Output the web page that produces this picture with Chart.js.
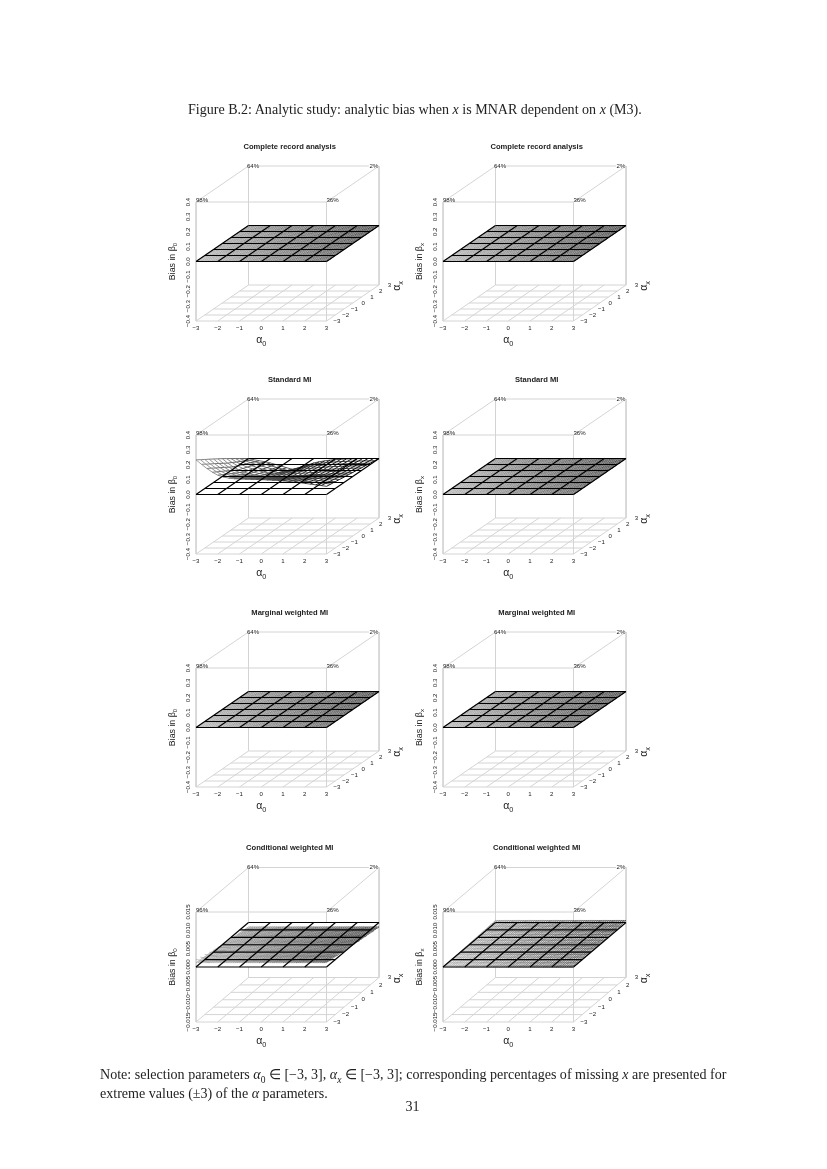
<!DOCTYPE html>
<html>
<head>
<meta charset="utf-8">
<title>Figure B.2</title>
<script src="https://cdn.jsdelivr.net/npm/chart.js@4"></script>
<style>
    html, body { margin: 0; padding: 0; background: #fff; }
    body { position: relative; width: 827px; height: 1169px; overflow: hidden; font-family: "Liberation Serif", serif; color: #222; }
    canvas { position: absolute; filter: blur(0.3px); }
    .txt { position: absolute; white-space: nowrap; font-size: 14.05px; line-height: 16px; filter: blur(0.25px); }
    .txt sub { font-size: 9.5px; line-height: 0; }
</style>
</head>
<body>
<div class="txt" style="left:188px;top:101px;">Figure B.2: Analytic study: analytic bias when <i>x</i> is MNAR dependent on <i>x</i> (M3).</div>
<div class="txt" style="left:100px;top:1066px;">Note: selection parameters <i>α</i><sub>0</sub> ∈ [−3, 3], <i>α<sub>x</sub></i> ∈ [−3, 3]; corresponding percentages of missing <i>x</i> are presented for</div>
<div class="txt" style="left:100px;top:1085px;">extreme values (±3) of the <i>α</i> parameters.</div>
<div class="txt" style="left:405.5px;top:1098px;">31</div>

<script>
// ----- DATA -----
const panelTitles = [
    'Complete record analysis', 'Complete record analysis',
    'Standard MI', 'Standard MI',
    'Marginal weighted MI', 'Marginal weighted MI',
    'Conditional weighted MI', 'Conditional weighted MI'
];
const panelSubs = ['0', 'x', '0', 'x', '0', 'x', '0', 'x'];
const cornerFrontLeft = ['98%', '98%', '98%', '98%', '98%', '98%', '96%', '96%'];
const cornerFrontRight = ['36%', '36%', '36%', '36%', '36%', '36%', '36%', '36%'];
const cornerBackLeft = ['64%', '64%', '64%', '64%', '64%', '64%', '64%', '64%'];
const cornerBackRight = ['2%', '2%', '2%', '2%', '2%', '2%', '2%', '2%'];

const alpha0Ticks = [-3, -2, -1, 0, 1, 2, 3];
const alphaXTicks = [-3, -2, -1, 0, 1, 2, 3];
const biasTicksWide = [-0.4, -0.3, -0.2, -0.1, 0, 0.1, 0.2, 0.3, 0.4];
const biasLabelsWide = ['−0.4', '−0.3', '−0.2', '−0.1', '0.0', '0.1', '0.2', '0.3', '0.4'];
const biasTicksNarrow = [-0.015, -0.01, -0.005, 0, 0.005, 0.01, 0.015];
const biasLabelsNarrow = ['−0.015', '−0.010', '−0.005', '0.000', '0.005', '0.010', '0.015'];

const fineTicks = [
    -3, -2.9, -2.8, -2.7, -2.6, -2.5, -2.4, -2.3, -2.2, -2.1,
    -2, -1.9, -1.8, -1.7, -1.6, -1.5, -1.4, -1.3, -1.2, -1.1,
    -1, -0.9, -0.8, -0.7, -0.6, -0.5, -0.4, -0.3, -0.2, -0.1,
    0, 0.1, 0.2, 0.3, 0.4, 0.5, 0.6, 0.7, 0.8, 0.9,
    1, 1.1, 1.2, 1.3, 1.4, 1.5, 1.6, 1.7, 1.8, 1.9,
    2, 2.1, 2.2, 2.3, 2.4, 2.5, 2.6, 2.7, 2.8, 2.9, 3
];

// Standard MI, bias in beta0 (units of 0.001)
const standardAlpha0 = [-3, -2.75, -2.5, -2.25, -2, -1.75, -1.5, -1.25, -1, -0.75, -0.5, -0.25, 0, 0.25, 0.5, 0.75, 1, 1.25, 1.5, 1.75, 2, 2.25, 2.5, 2.75, 3];
const standardAlphaX = [-3, -2.5, -2, -1.5, -1, -0.5, 0, 0.5, 1, 1.5, 2, 2.5, 3];
const standardBias = [
    [233, 203, 175, 150, 130, 118, 110, 106, 104, 103, 102, 101, 100, 98, 96, 94, 92, 88, 84, 80, 75, 70, 65, 60, 55],
    [214, 184, 157, 132, 113, 101, 93, 89, 87, 86, 85, 84, 84, 82, 81, 80, 78, 75, 72, 69, 65, 62, 58, 54, 50],
    [195, 165, 138, 115, 97, 85, 77, 72, 70, 69, 68, 67, 67, 67, 66, 65, 65, 63, 61, 59, 56, 53, 51, 48, 46],
    [177, 147, 120, 98, 80, 68, 60, 56, 53, 52, 51, 51, 51, 51, 51, 51, 51, 50, 49, 48, 47, 45, 44, 42, 41],
    [158, 128, 102, 80, 63, 51, 43, 39, 36, 34, 34, 34, 35, 35, 36, 37, 37, 37, 37, 37, 37, 37, 36, 36, 36],
    [139, 109, 83, 62, 47, 35, 27, 22, 19, 17, 17, 17, 18, 20, 21, 22, 24, 25, 26, 27, 28, 28, 29, 30, 32],
    [120, 90, 65, 45, 30, 18, 10, 5, 2, 0, 0, 0, 2, 4, 6, 8, 10, 12, 14, 16, 18, 20, 22, 24, 27],
    [100, 74, 52, 34, 20, 8, 0, -6, -10, -11, -9, -7, -3, 0, 2, 5, 7, 9, 11, 13, 15, 17, 18, 20, 23],
    [80, 57, 38, 23, 10, -1, -10, -17, -23, -22, -17, -14, -9, -5, -1, 2, 4, 6, 8, 10, 12, 13, 15, 16, 18],
    [60, 41, 25, 12, 0, -11, -20, -29, -35, -32, -26, -21, -14, -9, -5, -2, 1, 4, 6, 7, 9, 10, 11, 12, 14],
    [40, 25, 12, 0, -10, -21, -30, -40, -47, -43, -35, -28, -19, -13, -9, -5, -2, 1, 3, 4, 5, 7, 7, 8, 9],
    [20, 8, -2, -11, -20, -30, -40, -51, -60, -54, -43, -35, -25, -18, -12, -8, -5, -2, 0, 1, 2, 3, 4, 4, 5],
    [0, -8, -15, -22, -30, -40, -50, -62, -72, -65, -52, -42, -30, -22, -16, -11, -8, -5, -3, -2, -1, 0, 0, 0, 0]
];

// Conditional weighted MI: height of each fine row above the plane (units of 0.0001)
const conditionalRows0 = [
    12, 12, 11.3, 10.5, 10.5, 9.8, 9.8, 9, 9, 8.3, 8.3, 7.5, 7.5, 6.8, 6.8, 6, 6, 5.3, 5.3, 4.5,
    4.5, 3.8, 3.8, 3, 3, 2.3, 2.3, 1.5, 1.5, 0.8, 0, -0.8, -1.5, -1.5, -2.3, -2.3, -3, -3, -3.8, -3.8,
    -4.5, -4.5, -5.3, -5.3, -6, -6, -6.8, -6.8, -7.5, -7.5, -8.3, -8.3, -9, -9, -9.8, -9.8, -10.5, -10.5, -11.3, -12, -12
];
const conditionalRowsX = [
    0, 0.1, 0.2, 0.3, 0.4, 0.5, 0.5, 0.6, 0.7, 0.8, 0.9, 1, 1.1, 1.2, 1.3, 1.4, 1.5, 1.5, 1.6, 1.7,
    1.8, 1.9, 2, 2.1, 2.2, 2.3, 2.4, 2.5, 2.5, 2.6, 2.7, 2.8, 2.9, 3, 3.1, 3.2, 3.3, 3.4, 3.5, 3.5,
    3.6, 3.7, 3.8, 3.9, 4, 4.1, 4.2, 4.3, 4.4, 4.5, 4.5, 4.6, 4.7, 4.8, 4.9, 5, 5.1, 5.2, 5.3, 5.4, 5.5
];
// Conditional weighted MI, beta0: the rise along the a0 = -3 edge (units of 0.0001)
const wedgeAlphaX = [-3, -2.75, -2.5, -2.25, -2, -1.75, -1.5, -1.25, -1, -0.75, -0.5, -0.25, 0];
const wedgeBias = [21, 19, 17, 15.5, 14, 12, 10, 8, 6, 4.5, 3, 1.5, 0];

// ----- LAYOUT -----
const colLeft = [195.7, 443.3];
const rowBottom = [320.5, 553.5, 787, 1021.5];
const rowHeight = [119, 119, 119, 110];
const rowDepth = [36, 36, 36, 44.5];
const faceWidth = 130.5;
const shear = 52.5;
const padLeft = 32, padRight = 212, padTop = 182, padBottom = 30;

const GRID = '#d4d4d4';
const INK = '#222';

// ----- HELPERS -----
function lineSet(points, color, width) {
    return {
        data: points, showLine: true, pointRadius: 0, borderColor: color,
        borderWidth: width, tension: 0, fill: false
    };
}

function makeProjector(zMin, zMax, height, depth) {
    return (a0, ax, z) => ({
        x: (a0 + 3) / 6 * faceWidth + (ax + 3) / 6 * shear,
        y: (z - zMin) / (zMax - zMin) * height + (ax + 3) / 6 * depth
    });
}

function drawSubLabel(ctx, x, y, base, sub, size, rotate) {
    ctx.save();
    ctx.translate(x, y);
    ctx.rotate(rotate);
    ctx.textBaseline = 'alphabetic';
    ctx.textAlign = 'left';
    ctx.font = `${size}px "Liberation Sans"`;
    const w1 = ctx.measureText(base).width;
    ctx.font = `${size * 0.7}px "Liberation Sans"`;
    const w2 = ctx.measureText(sub).width;
    const start = -(w1 + w2) / 2;
    ctx.font = `${size}px "Liberation Sans"`;
    ctx.fillText(base, start, size * 0.35);
    ctx.font = `${size * 0.7}px "Liberation Sans"`;
    ctx.fillText(sub, start + w1, size * 0.6);
    ctx.restore();
}

function buildPanel(index) {
    const col = index % 2;
    const row = Math.floor(index / 2);
    const narrow = row === 3;
    const biasTicks = narrow ? biasTicksNarrow : biasTicksWide;
    const biasLabels = narrow ? biasLabelsNarrow : biasLabelsWide;
    const zMax = biasTicks[biasTicks.length - 1];
    const zMin = biasTicks[0];
    const height = rowHeight[row];
    const depth = rowDepth[row];
    const project = makeProjector(zMin, zMax, height, depth);
    const range = zMax - zMin;
    const zLow = -depth / height * range;
    const zHigh = depth / height * range;

    const canvas = document.createElement('canvas');
    canvas.width = padLeft + padRight;
    canvas.height = padTop + padBottom;
    canvas.style.left = (colLeft[col] - padLeft) + 'px';
    canvas.style.top = (rowBottom[row] - padTop) + 'px';
    document.body.appendChild(canvas);

    const shade = canvas.getContext('2d').createLinearGradient(padLeft, 0, padLeft + faceWidth + shear, 0);
    shade.addColorStop(0, index === 2 ? '#8c8c8c' : '#a4a4a4');
    shade.addColorStop(0.45, index === 2 ? '#3c3c3c' : '#5c5c5c');
    shade.addColorStop(1, index === 2 ? '#000' : '#141414');

    // layers listed from the back to the front
    const layers = [];
    const edge = (a1, x1, z1, a2, x2, z2) => layers.push(lineSet([project(a1, x1, z1), project(a2, x2, z2)], GRID, 1));

    // box: verticals stop where the flat plane hides them
    edge(-3, 3, zMax, -3, 3, 0);
    edge(-3, 3, zLow, -3, 3, zMin);
    edge(3, 3, zMax, 3, 3, zMin);
    edge(-3, -3, zMax, -3, -3, zMin);
    edge(3, -3, zMax, 3, -3, zHigh);
    edge(3, -3, 0, 3, -3, zMin);
    edge(-3, -3, zMax, 3, -3, zMax);
    edge(-3, 3, zMax, 3, 3, zMax);
    edge(-3, -3, zMax, -3, 3, zMax);
    edge(3, -3, zMax, 3, 3, zMax);

    // floor grid
    alpha0Ticks.forEach(a => edge(a, -3, zMin, a, 3, zMin));
    alphaXTicks.forEach(x => edge(-3, x, zMin, 3, x, zMin));

    // fine mesh
    if (index === 2) {
        standardAlphaX.forEach((x, i) => {
            layers.push(lineSet(standardAlpha0.map((a, j) => project(a, x, standardBias[i][j] / 1000)), shade, 0.8));
        });
        standardAlpha0.forEach((a, j) => {
            layers.push(lineSet(standardAlphaX.map((x, i) => project(a, x, standardBias[i][j] / 1000)), shade, 1));
        });
    } else {
        const rows = index === 6 ? conditionalRows0 : index === 7 ? conditionalRowsX : null;
        const lift = k => (rows ? rows[k] / 10000 : 0);
        if (index === 6) {
            wedgeAlphaX.forEach((x, i) => {
                layers.push(lineSet([project(-3, x, wedgeBias[i] / 10000), project(-2.4, x, lift(fineTicks.indexOf(x)))], '#b4b4b4', 0.8));
            });
        }
        // every second fine row, so the white stipple of the mesh stays open
        fineTicks.forEach((x, k) => {
            if (k % 2 === 0) layers.push(lineSet([project(-3, x, lift(k)), project(3, x, lift(k))], shade, 0.5));
        });
        fineTicks.forEach(a => {
            layers.push(lineSet(fineTicks.map((x, k) => project(a, x, lift(k))), shade, 0.6));
        });
    }

    // coarse grid on the zero plane
    alpha0Ticks.forEach(a => layers.push(lineSet([project(a, -3, 0), project(a, 3, 0)], '#000', 1.2)));
    alphaXTicks.forEach(x => layers.push(lineSet([project(-3, x, 0), project(3, x, 0)], '#000', 1.2)));

    const labelPlugin = {
        id: 'panelText',
        afterDraw(chart) {
            const { ctx, scales } = chart;
            const px = p => ({ x: scales.x.getPixelForValue(p.x), y: scales.y.getPixelForValue(p.y) });
            ctx.save();
            ctx.fillStyle = INK;
            ctx.textAlign = 'center';
            ctx.textBaseline = 'middle';

            // panel title
            ctx.font = 'bold 7.6px "Liberation Sans"';
            ctx.fillText(panelTitles[index], padLeft + 93.7, padTop - 174.5);

            // corner percentages
            ctx.font = '6.1px "Liberation Sans"';
            const fl = px(project(-3, -3, zMax));
            const fr = px(project(3, -3, zMax));
            const bl = px(project(-3, 3, zMax));
            const br = px(project(3, 3, zMax));
            ctx.fillText(cornerFrontLeft[index], fl.x + 6, fl.y - 2);
            ctx.fillText(cornerFrontRight[index], fr.x + 6, fr.y - 2);
            ctx.fillStyle = '#fff';
            ctx.fillRect(bl.x + 0.5, bl.y - 2, 10, 4);
            ctx.fillRect(br.x - 10, br.y - 2, 9.5, 4);
            ctx.fillStyle = INK;
            ctx.fillText(cornerBackLeft[index], bl.x + 4.5, bl.y);
            ctx.fillText(cornerBackRight[index], br.x - 5, br.y);

            // alpha0 ticks
            alpha0Ticks.forEach(a => {
                const p = px(project(a, -3, zMin));
                ctx.fillText(a < 0 ? '−' + Math.abs(a) : String(a), p.x, p.y + 7);
            });
            // alphaX ticks
            alphaXTicks.forEach(x => {
                const p = px(project(3, x, zMin));
                ctx.fillText(x < 0 ? '−' + Math.abs(x) : String(x), p.x + 10.5, p.y);
            });
            // bias ticks, turned on their side
            biasTicks.forEach((z, i) => {
                const p = px(project(-3, -3, z));
                ctx.save();
                ctx.translate(p.x - 7.4, p.y);
                ctx.rotate(-Math.PI / 2);
                ctx.fillText(biasLabels[i], 0, 0);
                ctx.restore();
            });

            // axis names
            const mid = px(project(0, -3, zMin));
            drawSubLabel(ctx, mid.x, mid.y + 18.5, 'α', '0', 10.5, 0);
            const side = px(project(-3, -3, 0));
            drawSubLabel(ctx, side.x - 24.5, side.y, 'Bias in β', panelSubs[index], 8.8, -Math.PI / 2);
            const back = px(project(3, 3, zMin));
            drawSubLabel(ctx, back.x + 17.5, back.y + 1, 'α', 'x', 10.5, -Math.PI / 2);
            ctx.restore();
        }
    };

    new Chart(canvas, {
        type: 'scatter',
        data: { datasets: layers.reverse() },
        options: {
            responsive: false,
            animation: false,
            events: [],
            layout: { padding: 0 },
            plugins: { legend: { display: false }, tooltip: { enabled: false } },
            scales: {
                x: { type: 'linear', display: false, min: -padLeft, max: padRight },
                y: { type: 'linear', display: false, min: -padBottom, max: padTop }
            }
        },
        plugins: [labelPlugin]
    });
}

// ----- DRAW -----
panelTitles.forEach((title, i) => buildPanel(i));
</script>
</body>
</html>
